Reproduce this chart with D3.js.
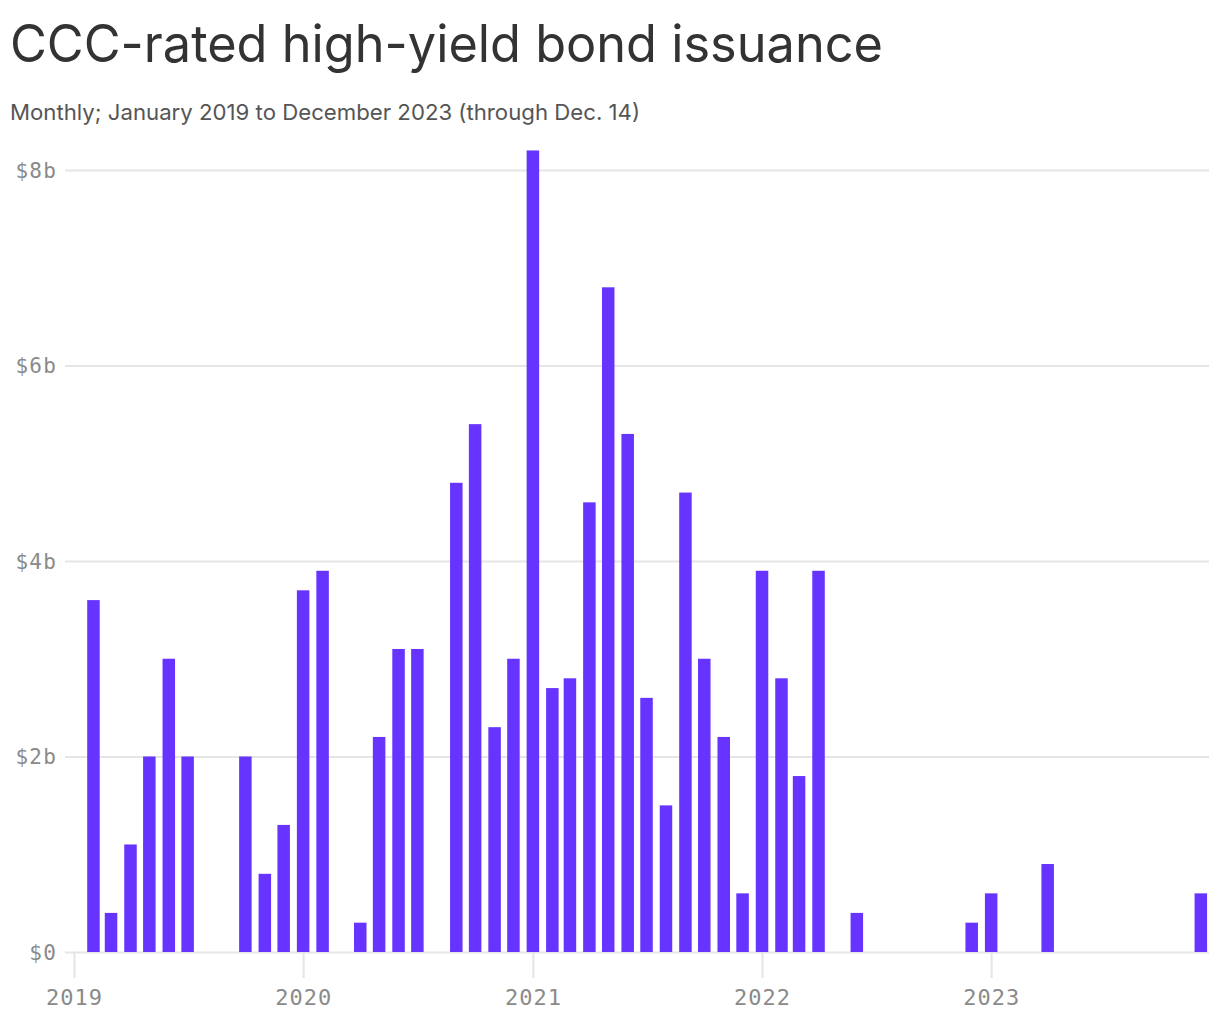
<!DOCTYPE html>
<html>
<head>
<meta charset="utf-8">
<script src="https://cdn.jsdelivr.net/npm/d3@7"></script>
<style>
  html, body { margin: 0; padding: 0; background: #fff; }
  svg { display: block; }
</style>
</head>
<body>
<svg id="chart" width="1220" height="1020"></svg>
<script>
// ---- Data (billions of USD, monthly CCC-rated high-yield bond issuance) ----
const months = [
  "2019-01","2019-02","2019-03","2019-04","2019-05","2019-06","2019-07","2019-08","2019-09","2019-10","2019-11","2019-12",
  "2020-01","2020-02","2020-03","2020-04","2020-05","2020-06","2020-07","2020-08","2020-09","2020-10","2020-11","2020-12",
  "2021-01","2021-02","2021-03","2021-04","2021-05","2021-06","2021-07","2021-08","2021-09","2021-10","2021-11","2021-12",
  "2022-01","2022-02","2022-03","2022-04","2022-05","2022-06","2022-07","2022-08","2022-09","2022-10","2022-11","2022-12",
  "2023-01","2023-02","2023-03","2023-04","2023-05","2023-06","2023-07","2023-08","2023-09","2023-10","2023-11"
];
const issuance = [
  3.6, 0.4, 1.1, 2.0, 3.0, 2.0, 0, 0, 2.0, 0.8, 1.3, 3.7,
  3.9, 0, 0.3, 2.2, 3.1, 3.1, 0, 4.8, 5.4, 2.3, 3.0, 8.2,
  2.7, 2.8, 4.6, 6.8, 5.3, 2.6, 1.5, 4.7, 3.0, 2.2, 0.6, 3.9,
  2.8, 1.8, 3.9, 0, 0.4, 0, 0, 0, 0, 0, 0.3, 0.6,
  0, 0, 0.9, 0, 0, 0, 0, 0, 0, 0, 0.6
];
const yTicks = [0, 2, 4, 6, 8];
const xTickYears = ["2019", "2020", "2021", "2022", "2023"];
const domainStart = "2019-01-01";
const domainEnd = "2023-12-14";

const title = "CCC-rated high-yield bond issuance";
const subtitle = "Monthly; January 2019 to December 2023 (through Dec. 14)";

// ---- Layout ----
const svg = d3.select("#chart");
const parseMonth = d3.timeParse("%Y-%m");
const parseDay = d3.timeParse("%Y-%m-%d");
const data = months.map((m, i) => ({ date: parseMonth(m), value: issuance[i] }));

const plotLeft = 74, plotRight = 1209, plotTop = 170, plotBottom = 952;
const gridLeft = 65;
const x = d3.scaleTime()
  .domain([parseDay(domainStart), parseDay(domainEnd)])
  .range([plotLeft, plotRight]);
const y = d3.scaleLinear().domain([0, 8]).range([plotBottom, plotTop]);
const barW = 12.5;
const monoFont = "'DejaVu Sans Mono', 'Liberation Mono', monospace";

// Title & subtitle
svg.append("text")
  .attr("x", 10).attr("y", 62)
  .attr("font-family", "Inter, 'Noto Sans', sans-serif")
  .attr("font-size", 52)
  .attr("fill", "#333")
  .attr("textLength", 873)
  .attr("lengthAdjust", "spacingAndGlyphs")
  .text(title);

svg.append("text")
  .attr("x", 10).attr("y", 120)
  .attr("font-family", "Inter, 'Noto Sans', sans-serif")
  .attr("font-size", 22)
  .attr("fill", "#555")
  .attr("textLength", 630)
  .attr("lengthAdjust", "spacingAndGlyphs")
  .text(subtitle);

// Gridlines + y labels
const yAxis = d3.axisLeft(y)
  .tickValues(yTicks)
  .tickSize(plotRight - gridLeft)
  .tickFormat(d => d === 0 ? "$0" : "$" + d + "b");
const gy = svg.append("g")
  .attr("transform", `translate(${plotRight},0)`)
  .call(yAxis);
gy.select(".domain").remove();
gy.selectAll(".tick line")
  .attr("stroke", "#e5e5e5")
  .attr("stroke-width", 2);
gy.selectAll(".tick text")
  .attr("x", -(plotRight - 57))
  .attr("font-family", monoFont)
  .attr("font-size", 21)
  .attr("letter-spacing", 1.2)
  .attr("fill", "#8a8a8a")
  .attr("text-anchor", "end")
  .attr("dy", "0.35em");

// X axis
const xAxis = d3.axisBottom(x)
  .tickValues(xTickYears.map(yr => parseDay(yr + "-01-01")))
  .tickSize(26)
  .tickPadding(11)
  .tickFormat(d3.timeFormat("%Y"));
const gx = svg.append("g")
  .attr("transform", `translate(0,${plotBottom})`)
  .call(xAxis);
gx.select(".domain").remove();
gx.selectAll(".tick line")
  .attr("stroke", "#e5e5e5")
  .attr("stroke-width", 2);
gx.selectAll(".tick text")
  .attr("font-family", monoFont)
  .attr("font-size", 22)
  .attr("letter-spacing", 1)
  .attr("fill", "#8a8a8a");

// Bars (each month's bar centred at the month's end)
svg.append("g")
  .selectAll("rect")
  .data(data.filter(d => d.value > 0))
  .join("rect")
  .attr("x", d => x(d3.timeMonth.offset(d.date, 1)) - barW / 2)
  .attr("width", barW)
  .attr("y", d => y(d.value))
  .attr("height", d => y(0) - y(d.value))
  .attr("fill", "#6633ff");
</script>
</body>
</html>
